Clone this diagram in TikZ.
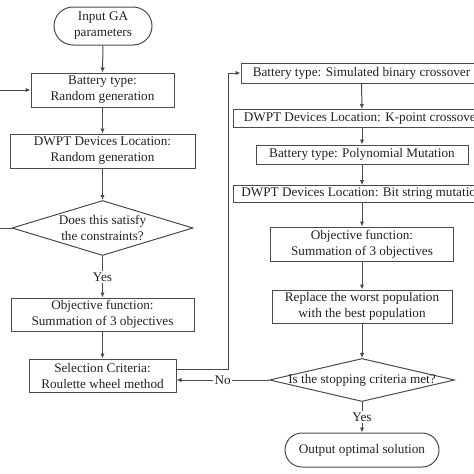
\documentclass[tikz,border=0pt]{standalone}
\usepackage{fontspec}
\setmainfont{Liberation Serif}
\usetikzlibrary{shapes.geometric,shapes.misc,arrows.meta}
\definecolor{linegray}{HTML}{4A4A4A}
\definecolor{textgray}{HTML}{222222}

\begin{document}
\begin{tikzpicture}[x=1pt,y=-1pt,
	font=\fontsize{13.2}{16}\selectfont,
	box/.style={draw=linegray, line width=1pt, align=center, inner sep=0pt, text=textgray},
	term/.style={box, rounded rectangle},
	decide/.style={box, diamond},
	arr/.style={draw=linegray, line width=1pt, -{Latex[length=5pt,width=4.5pt]}},
	lbl/.style={fill=white, inner sep=1.5pt, text=textgray}]
	\useasboundingbox (0,0) rectangle (474,474);
	\clip (0,0) rectangle (474,474);
	
	\node[term, minimum width=98, minimum height=38] (input) at (103,26) {Input GA\\parameters};
	\node[box, minimum width=143, minimum height=34] (bat1) at (102.5,90) {Battery type:\\Random generation};
	\node[box, minimum width=185, minimum height=34] (dwpt1) at (102.5,151) {DWPT Devices Location:\\Random generation};
	\node[decide, aspect=3.3, inner xsep=-3pt, minimum width=181, minimum height=55] (check) at (102.5,228) {Does this satisfy\\the constraints?};
	\node[box, minimum width=183, minimum height=33] (obj1) at (102.5,314.5) {Objective function:\\Summation of 3 objectives};
	\node[box, minimum width=147, minimum height=33] (sel) at (102.5,375.5) {Selection Criteria:\\Roulette wheel method};
	
	\node[box, minimum width=241, minimum height=20] (bat2) at (361.5,73) {Battery type: Simulated binary crossover};
	\node[box, minimum width=258, minimum height=18] (dwpt2) at (362,118.5) {DWPT Devices Location: K-point crossover};
	\node[box, minimum width=212, minimum height=19] (bat3) at (362,154.5) {Battery type: Polynomial Mutation};
	\node[box, minimum width=258, minimum height=17] (dwpt3) at (362,194) {DWPT Devices Location: Bit string mutation};
	\node[box, minimum width=183, minimum height=34] (obj2) at (362,244) {Objective function:\\Summation of 3 objectives};
	\node[box, minimum width=180, minimum height=33] (repl) at (362,306.5) {Replace the worst population\\with the best population};
	\node[decide, aspect=4.3, inner xsep=-7pt, minimum width=185, minimum height=43] (stop) at (362,380) {Is the stopping criteria met?};
	\node[term, minimum width=154, minimum height=34] (out) at (362,450) {Output optimal solution};
	
	\coordinate (edgeA) at (0,90);
	\coordinate (edgeB) at (0,228);
	\coordinate (turn) at (228,0);
	
	\draw[arr] (input) -- (bat1);
	\draw[arr] (bat1) -- (dwpt1);
	\draw[arr] (dwpt1) -- (check);
	\draw[arr] (check) -- node[lbl] {Yes} (obj1);
	\draw[arr] (obj1) -- (sel);
	\draw[arr] ([yshift=6]sel.east) -| (turn |- bat2.west) -- (bat2.west);
	\draw[arr] (stop.west) -- node[lbl] {No} (stop.west -| sel.east);
	\draw[arr] (edgeA) -- (bat1.west);
	\draw[draw=linegray, line width=1pt] (check.west) -- (edgeB);
	
	\draw[arr] (bat2) -- (dwpt2);
	\draw[arr] (dwpt2) -- (bat3);
	\draw[arr] (bat3) -- (dwpt3);
	\draw[arr] (dwpt3) -- (obj2);
	\draw[arr] (obj2) -- (repl);
	\draw[arr] (repl) -- (stop);
	\draw[arr] (stop) -- node[lbl] {Yes} (out);
\end{tikzpicture}
\end{document}
